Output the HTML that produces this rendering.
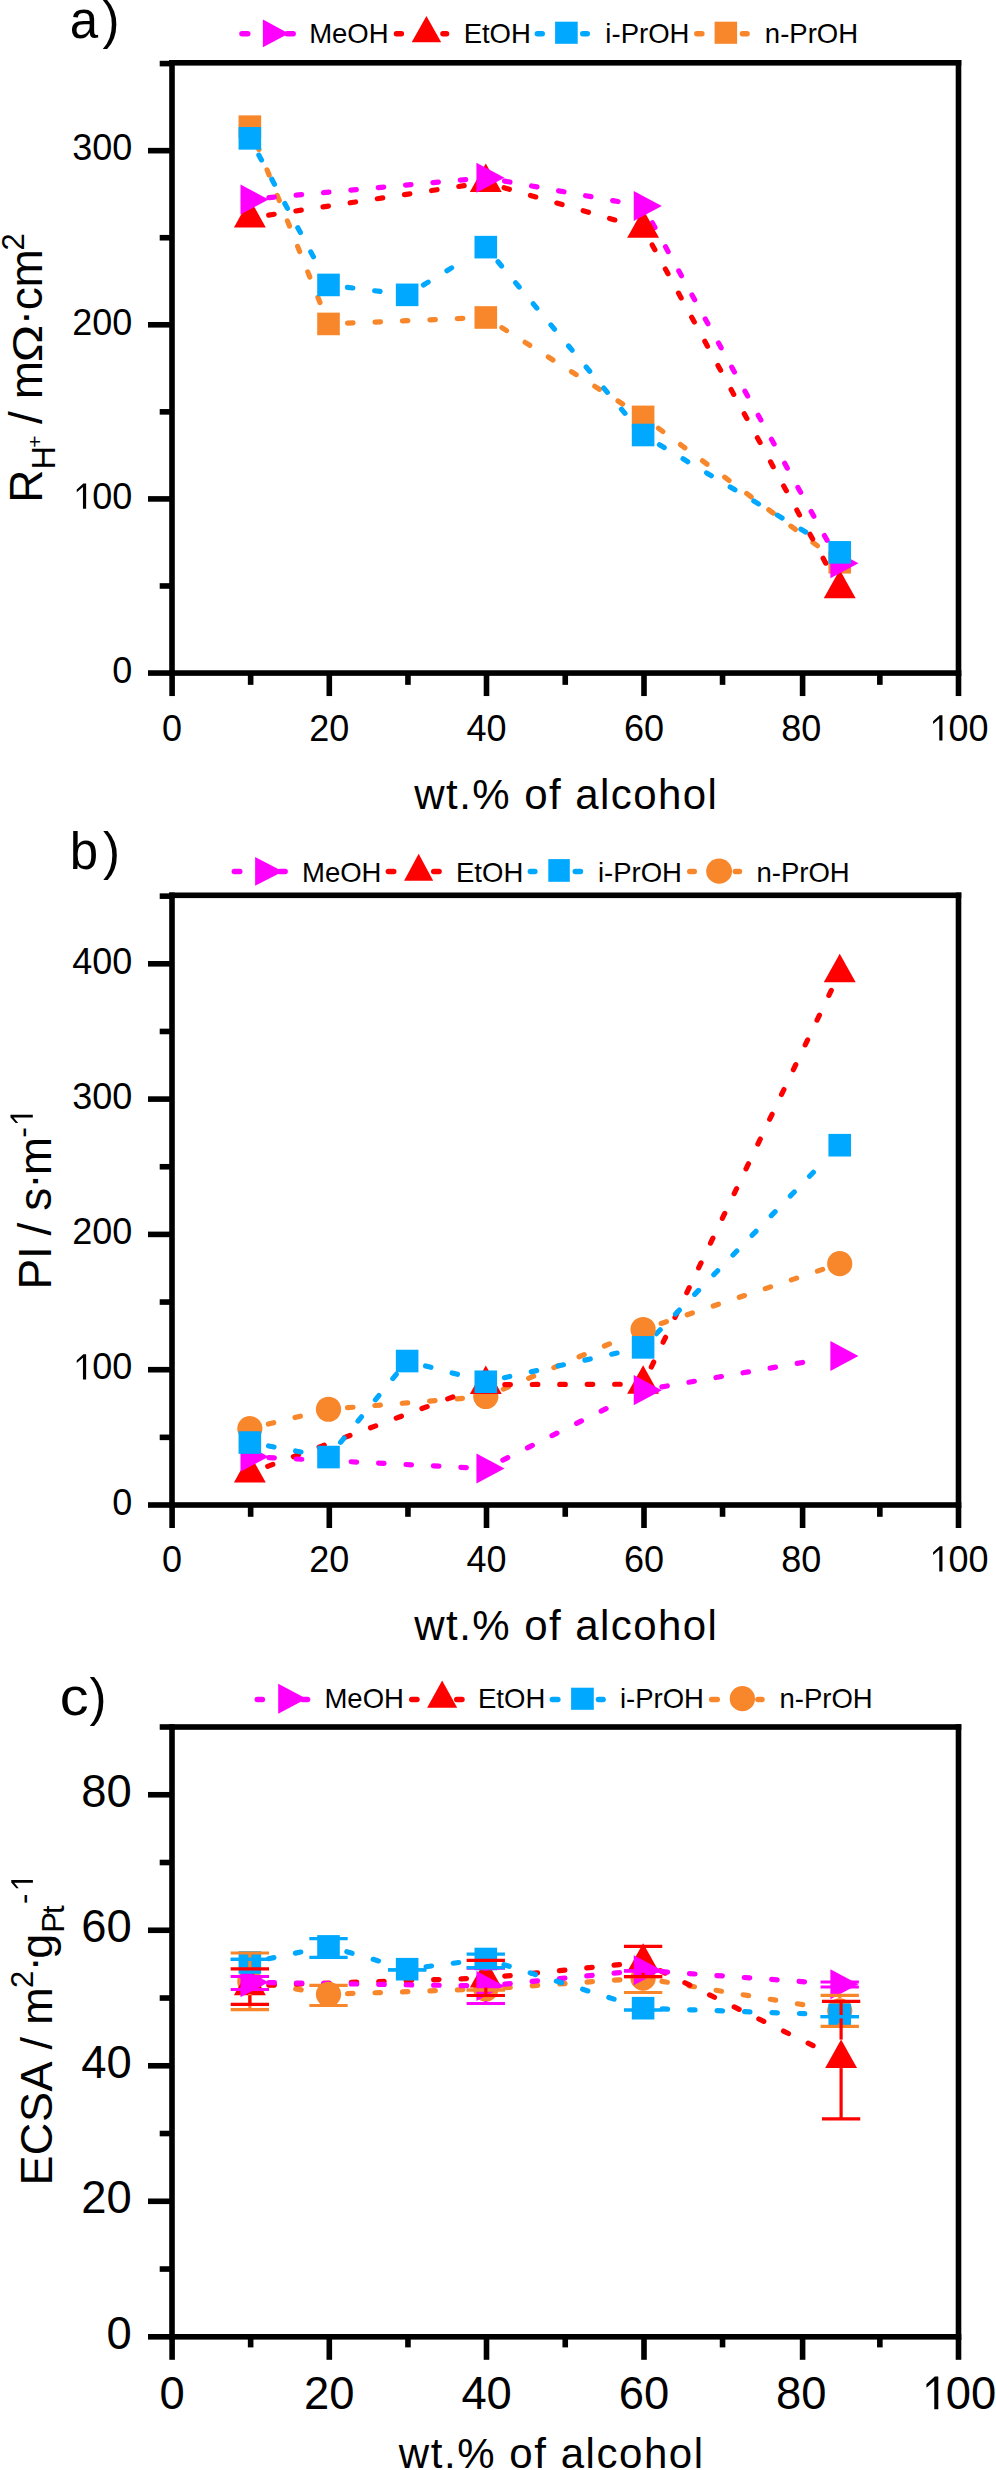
<!DOCTYPE html>
<html><head><meta charset="utf-8"><style>html,body{margin:0;padding:0;background:#fff;overflow:hidden;}svg{display:block;}</style></head>
<body><svg width="996" height="2470" viewBox="0 0 996 2470" font-family='"Liberation Sans", sans-serif'>
<rect width="996" height="2470" fill="#fff"/>
<rect x="955.70" y="60.00" width="5.6" height="615.85" fill="#000"/>
<rect x="169.20" y="60.00" width="792.10" height="5.6" fill="#000"/>
<rect x="169.20" y="60.00" width="5.6" height="615.85" fill="#000"/>
<rect x="169.20" y="670.25" width="792.10" height="5.6" fill="#000"/>
<rect x="148.00" y="670.25" width="22.20" height="5.6" fill="#000"/>
<g transform="translate(112.18,682.77)"><text x="0.00" y="0" font-size="36">0</text></g>
<rect x="159.70" y="583.18" width="10.50" height="5.6" fill="#000"/>
<rect x="148.00" y="496.12" width="22.20" height="5.6" fill="#000"/>
<g transform="translate(72.14,508.64)"><polygon points="10.81,0.00 13.99,0.00 13.99,-25.14 11.25,-25.14 4.61,-19.25 4.61,-16.44 10.81,-21.66" fill="#000"/><text x="20.02" y="0" font-size="36">00</text></g>
<rect x="159.70" y="409.05" width="10.50" height="5.6" fill="#000"/>
<rect x="148.00" y="321.99" width="22.20" height="5.6" fill="#000"/>
<g transform="translate(72.14,334.51)"><text x="0.00" y="0" font-size="36">200</text></g>
<rect x="159.70" y="234.92" width="10.50" height="5.6" fill="#000"/>
<rect x="148.00" y="147.86" width="22.20" height="5.6" fill="#000"/>
<g transform="translate(72.14,160.38)"><text x="0.00" y="0" font-size="36">300</text></g>
<rect x="159.70" y="60.79" width="10.50" height="5.6" fill="#000"/>
<rect x="169.30" y="674.85" width="5.6" height="21.20" fill="#000"/>
<g transform="translate(161.99,740.50)"><text x="0.00" y="0" font-size="36">0</text></g>
<rect x="247.85" y="674.85" width="5.6" height="10.00" fill="#000"/>
<rect x="326.50" y="674.85" width="5.6" height="21.20" fill="#000"/>
<g transform="translate(309.28,740.50)"><text x="0.00" y="0" font-size="36">20</text></g>
<rect x="405.15" y="674.85" width="5.6" height="10.00" fill="#000"/>
<rect x="483.70" y="674.85" width="5.6" height="21.20" fill="#000"/>
<g transform="translate(466.58,740.50)"><text x="0.00" y="0" font-size="36">40</text></g>
<rect x="562.45" y="674.85" width="5.6" height="10.00" fill="#000"/>
<rect x="641.20" y="674.85" width="5.6" height="21.20" fill="#000"/>
<g transform="translate(623.88,740.50)"><text x="0.00" y="0" font-size="36">60</text></g>
<rect x="719.75" y="674.85" width="5.6" height="10.00" fill="#000"/>
<rect x="799.80" y="674.85" width="5.6" height="21.20" fill="#000"/>
<g transform="translate(781.18,740.50)"><text x="0.00" y="0" font-size="36">80</text></g>
<rect x="877.05" y="674.85" width="5.6" height="10.00" fill="#000"/>
<rect x="955.70" y="674.85" width="5.6" height="21.20" fill="#000"/>
<g transform="translate(928.47,740.50)"><polygon points="10.81,0.00 13.99,0.00 13.99,-25.14 11.25,-25.14 4.61,-19.25 4.61,-16.44 10.81,-21.66" fill="#000"/><text x="20.02" y="0" font-size="36">00</text></g>
<path d="M256.91 144.37L258.94 149.48M267.08 169.88L269.11 174.99M277.25 195.38L279.28 200.49M287.42 220.89L289.45 226.00M297.59 246.40L299.62 251.51M307.76 271.91L309.79 277.01M317.93 297.41L319.96 302.52M347.53 323.15L353.03 322.92M374.97 322.03L380.47 321.80M402.41 320.90L407.90 320.68M429.85 319.78L435.34 319.55M457.28 318.66L462.78 318.43M501.90 327.67L506.55 330.60M525.12 342.34L529.77 345.27M548.33 357.01L552.98 359.94M571.54 371.68L576.19 374.61M594.76 386.35L599.40 389.28M617.97 401.02L622.62 403.95M658.42 428.22L662.84 431.49M680.50 444.55L684.92 447.82M702.58 460.87L707.00 464.14M724.66 477.20L729.08 480.47M746.74 493.52L751.16 496.79M768.82 509.85L773.24 513.12M790.90 526.17L795.32 529.44M812.98 542.50L817.40 545.77" fill="none" stroke="#F8862A" stroke-width="5.2" stroke-linecap="round"/>
<path d="M268.69 215.07L274.13 214.25M295.84 210.98L301.28 210.16M323.00 206.89L328.43 206.07M350.15 202.80L355.59 201.99M377.30 198.72L382.74 197.90M404.46 194.63L409.90 193.81M431.61 190.54L437.05 189.72M458.77 186.46L464.21 185.64M504.09 187.71L509.37 189.25M530.46 195.39L535.74 196.92M556.82 203.06L562.10 204.60M583.19 210.73L588.47 212.27M609.55 218.41L614.83 219.95M652.22 244.90L654.85 249.73M665.37 269.01L668.00 273.84M678.51 293.12L681.15 297.94M691.66 317.22L694.29 322.05M704.81 341.33L707.44 346.16M717.96 365.44L720.59 370.27M731.10 389.55L733.74 394.38M744.25 413.66L746.88 418.49M757.40 437.77L760.03 442.59M770.54 461.87L773.18 466.70M783.69 485.98L786.32 490.81M796.84 510.09L799.47 514.92M809.98 534.20L812.62 539.03M823.13 558.31L825.76 563.14" fill="none" stroke="#FF0000" stroke-width="5.2" stroke-linecap="round"/>
<path d="M268.82 197.70L274.30 197.19M296.16 195.18L301.64 194.67M323.51 192.65L328.98 192.15M350.85 190.13L356.33 189.63M378.20 187.61L383.67 187.11M405.54 185.09L411.02 184.58M432.88 182.57L438.36 182.06M460.23 180.04L465.70 179.54M504.55 181.07L509.96 182.04M531.57 185.94L536.98 186.92M558.59 190.82L564.01 191.79M585.62 195.69L591.03 196.67M612.64 200.57L618.05 201.55M652.29 222.75L654.94 227.57M665.53 246.81L668.18 251.63M678.77 270.87L681.42 275.69M692.01 294.92L694.66 299.74M705.25 318.98L707.90 323.80M718.49 343.04L721.14 347.86M731.73 367.10L734.38 371.91M744.97 391.15L747.62 395.97M758.21 415.21L760.86 420.03M771.45 439.27L774.10 444.08M784.69 463.32L787.34 468.14M797.93 487.38L800.58 492.20M811.17 511.44L813.82 516.26M824.41 535.49L827.06 540.31" fill="none" stroke="#FF00FF" stroke-width="5.2" stroke-linecap="round"/>
<path d="M258.86 155.13L261.46 159.97M271.84 179.32L274.44 184.17M284.82 203.52L287.42 208.37M297.80 227.72L300.40 232.56M310.79 251.91L313.39 256.76M347.40 287.32L352.86 288.00M374.64 290.75L380.10 291.44M423.44 284.98L428.14 282.12M446.92 270.74L451.62 267.88M498.03 261.76L501.56 265.97M515.66 282.81L519.19 287.03M533.29 303.86L536.82 308.08M550.92 324.92L554.45 329.14M568.55 345.97L572.08 350.19M586.18 367.03L589.71 371.24M603.81 388.08L607.34 392.30M621.44 409.13L624.97 413.35M659.46 444.77L664.18 447.59M683.04 458.84L687.76 461.66M706.62 472.91L711.34 475.73M730.20 486.98L734.92 489.80M753.78 501.06L758.50 503.88M777.36 515.13L782.08 517.95M800.94 529.20L805.66 532.02" fill="none" stroke="#00A8FF" stroke-width="5.2" stroke-linecap="round"/>
<rect x="238.55" y="115.37" width="22.60" height="22.60" fill="#F8862A"/>
<rect x="317.20" y="312.63" width="22.60" height="22.60" fill="#F8862A"/>
<rect x="474.50" y="306.19" width="22.60" height="22.60" fill="#F8862A"/>
<rect x="631.80" y="405.60" width="22.60" height="22.60" fill="#F8862A"/>
<rect x="828.43" y="550.97" width="22.60" height="22.60" fill="#F8862A"/>
<polygon points="249.85,198.90 233.90,227.40 265.80,227.40" fill="#FF0000"/>
<polygon points="485.80,163.39 469.85,191.89 501.75,191.89" fill="#FF0000"/>
<polygon points="643.10,209.17 627.15,237.67 659.05,237.67" fill="#FF0000"/>
<polygon points="839.73,569.74 823.77,598.24 855.68,598.24" fill="#FF0000"/>
<polygon points="240.48,184.40 268.58,199.45 240.48,214.50" fill="#FF00FF"/>
<polygon points="476.43,162.64 504.53,177.69 476.43,192.74" fill="#FF00FF"/>
<polygon points="633.73,191.01 661.83,206.06 633.73,221.11" fill="#FF00FF"/>
<polygon points="830.36,548.27 858.46,563.32 830.36,578.37" fill="#FF00FF"/>
<rect x="238.55" y="127.04" width="22.60" height="22.60" fill="#00A8FF"/>
<rect x="317.20" y="273.63" width="22.60" height="22.60" fill="#00A8FF"/>
<rect x="395.85" y="283.55" width="22.60" height="22.60" fill="#00A8FF"/>
<rect x="474.50" y="235.85" width="22.60" height="22.60" fill="#00A8FF"/>
<rect x="631.80" y="423.71" width="22.60" height="22.60" fill="#00A8FF"/>
<rect x="828.43" y="541.05" width="22.60" height="22.60" fill="#00A8FF"/>
<rect x="955.70" y="892.50" width="5.6" height="615.30" fill="#000"/>
<rect x="169.20" y="892.50" width="792.10" height="5.6" fill="#000"/>
<rect x="169.20" y="892.50" width="5.6" height="615.30" fill="#000"/>
<rect x="169.20" y="1502.20" width="792.10" height="5.6" fill="#000"/>
<rect x="148.00" y="1502.20" width="22.20" height="5.6" fill="#000"/>
<g transform="translate(112.18,1514.72)"><text x="0.00" y="0" font-size="36">0</text></g>
<rect x="159.70" y="1434.55" width="10.50" height="5.6" fill="#000"/>
<rect x="148.00" y="1366.90" width="22.20" height="5.6" fill="#000"/>
<g transform="translate(72.14,1379.42)"><polygon points="10.81,0.00 13.99,0.00 13.99,-25.14 11.25,-25.14 4.61,-19.25 4.61,-16.44 10.81,-21.66" fill="#000"/><text x="20.02" y="0" font-size="36">00</text></g>
<rect x="159.70" y="1299.25" width="10.50" height="5.6" fill="#000"/>
<rect x="148.00" y="1231.60" width="22.20" height="5.6" fill="#000"/>
<g transform="translate(72.14,1244.12)"><text x="0.00" y="0" font-size="36">200</text></g>
<rect x="159.70" y="1163.95" width="10.50" height="5.6" fill="#000"/>
<rect x="148.00" y="1096.30" width="22.20" height="5.6" fill="#000"/>
<g transform="translate(72.14,1108.82)"><text x="0.00" y="0" font-size="36">300</text></g>
<rect x="159.70" y="1028.65" width="10.50" height="5.6" fill="#000"/>
<rect x="148.00" y="961.00" width="22.20" height="5.6" fill="#000"/>
<g transform="translate(72.14,973.52)"><text x="0.00" y="0" font-size="36">400</text></g>
<rect x="159.70" y="893.35" width="10.50" height="5.6" fill="#000"/>
<rect x="169.30" y="1506.80" width="5.6" height="21.20" fill="#000"/>
<g transform="translate(161.99,1571.50)"><text x="0.00" y="0" font-size="36">0</text></g>
<rect x="247.85" y="1506.80" width="5.6" height="10.00" fill="#000"/>
<rect x="326.50" y="1506.80" width="5.6" height="21.20" fill="#000"/>
<g transform="translate(309.28,1571.50)"><text x="0.00" y="0" font-size="36">20</text></g>
<rect x="405.15" y="1506.80" width="5.6" height="10.00" fill="#000"/>
<rect x="483.70" y="1506.80" width="5.6" height="21.20" fill="#000"/>
<g transform="translate(466.58,1571.50)"><text x="0.00" y="0" font-size="36">40</text></g>
<rect x="562.45" y="1506.80" width="5.6" height="10.00" fill="#000"/>
<rect x="641.20" y="1506.80" width="5.6" height="21.20" fill="#000"/>
<g transform="translate(623.88,1571.50)"><text x="0.00" y="0" font-size="36">60</text></g>
<rect x="719.75" y="1506.80" width="5.6" height="10.00" fill="#000"/>
<rect x="799.80" y="1506.80" width="5.6" height="21.20" fill="#000"/>
<g transform="translate(781.18,1571.50)"><text x="0.00" y="0" font-size="36">80</text></g>
<rect x="877.05" y="1506.80" width="5.6" height="10.00" fill="#000"/>
<rect x="955.70" y="1506.80" width="5.6" height="21.20" fill="#000"/>
<g transform="translate(928.47,1571.50)"><polygon points="10.81,0.00 13.99,0.00 13.99,-25.14 11.25,-25.14 4.61,-19.25 4.61,-16.44 10.81,-21.66" fill="#000"/><text x="20.02" y="0" font-size="36">00</text></g>
<path d="M268.35 1424.05L273.69 1422.74M295.01 1417.49L300.35 1416.17M347.49 1407.71L352.97 1407.26M374.86 1405.49L380.34 1405.05M402.23 1403.28L407.71 1402.83M429.60 1401.06L435.08 1400.62M456.97 1398.85L462.45 1398.40M503.33 1389.05L508.39 1386.89M528.59 1378.28L533.65 1376.13M553.85 1367.52L558.91 1365.36M579.11 1356.76L584.17 1354.60M604.38 1345.99L609.43 1343.84M661.17 1323.45L666.38 1321.70M687.21 1314.73L692.42 1312.99M713.25 1306.02L718.46 1304.27M739.29 1297.30L744.50 1295.56M765.33 1288.59L770.54 1286.84M791.37 1279.87L796.58 1278.13M817.41 1271.16L822.62 1269.41" fill="none" stroke="#F8862A" stroke-width="5.2" stroke-linecap="round"/>
<path d="M267.69 1466.33L272.84 1464.40M293.40 1456.70L298.55 1454.77M319.12 1447.06L324.27 1445.13M344.83 1437.42L349.98 1435.49M370.54 1427.79L375.69 1425.86M396.26 1418.15L401.41 1416.22M421.97 1408.52L427.12 1406.59M447.69 1398.88L452.84 1396.95M504.85 1384.55L510.35 1384.54M532.31 1384.48L537.81 1384.47M559.77 1384.41L565.27 1384.39M587.23 1384.34L592.73 1384.32M614.69 1384.27L620.19 1384.25M651.31 1367.01L653.68 1362.04M663.15 1342.23L665.52 1337.27M674.99 1317.45L677.36 1312.49M686.83 1292.68L689.20 1287.71M698.67 1267.90L701.04 1262.94M710.51 1243.12L712.88 1238.16M722.35 1218.35L724.72 1213.38M734.19 1193.57L736.56 1188.61M746.03 1168.79L748.40 1163.83M757.87 1144.02L760.24 1139.05M769.71 1119.24L772.08 1114.28M781.55 1094.46L783.92 1089.50M793.39 1069.69L795.76 1064.72M805.23 1044.91L807.60 1039.95M817.07 1020.13L819.44 1015.17M828.90 995.36L831.28 990.39" fill="none" stroke="#FF0000" stroke-width="5.2" stroke-linecap="round"/>
<path d="M268.88 1457.59L274.37 1457.87M296.30 1458.98L301.79 1459.26M323.73 1460.36L329.22 1460.64M351.15 1461.75L356.64 1462.03M378.58 1463.13L384.07 1463.41M406.00 1464.52L411.49 1464.80M433.43 1465.90L438.92 1466.18M460.85 1467.29L466.34 1467.57M502.85 1460.05L507.77 1457.60M527.43 1447.80L532.35 1445.35M552.00 1435.55L556.93 1433.10M576.58 1423.30L581.50 1420.85M601.16 1411.06L606.08 1408.60M661.87 1386.89L667.29 1385.95M688.93 1382.20L694.34 1381.26M715.98 1377.50L721.40 1376.56M743.04 1372.81L748.46 1371.87M770.09 1368.11L775.51 1367.17M797.15 1363.42L802.57 1362.48" fill="none" stroke="#FF00FF" stroke-width="5.2" stroke-linecap="round"/>
<path d="M268.58 1446.00L273.99 1447.00M295.59 1450.98L301.00 1451.97M340.57 1442.30L344.06 1438.05M357.98 1421.06L361.46 1416.81M375.38 1399.82L378.86 1395.57M392.78 1378.58L396.27 1374.32M425.57 1365.89L430.89 1367.29M452.13 1372.89L457.44 1374.29M504.41 1377.69L509.78 1376.51M531.24 1371.82L536.61 1370.65M558.06 1365.96L563.44 1364.78M584.89 1360.09L590.26 1358.92M611.72 1354.23L617.09 1353.05M656.38 1333.71L660.22 1329.77M675.53 1314.03L679.36 1310.08M694.67 1294.34L698.51 1290.40M713.82 1274.66L717.66 1270.71M732.97 1254.97L736.80 1251.03M752.11 1235.29L755.95 1231.34M771.26 1215.60L775.09 1211.66M790.41 1195.92L794.24 1191.98M809.55 1176.23L813.39 1172.29" fill="none" stroke="#00A8FF" stroke-width="5.2" stroke-linecap="round"/>
<circle cx="249.85" cy="1428.61" r="12.60" fill="#F8862A"/>
<circle cx="328.50" cy="1409.24" r="12.60" fill="#F8862A"/>
<circle cx="485.80" cy="1396.52" r="12.60" fill="#F8862A"/>
<circle cx="643.10" cy="1329.49" r="12.60" fill="#F8862A"/>
<circle cx="839.73" cy="1263.69" r="12.60" fill="#F8862A"/>
<polygon points="249.85,1454.02 233.90,1482.52 265.80,1482.52" fill="#FF0000"/>
<polygon points="485.80,1365.60 469.85,1394.10 501.75,1394.10" fill="#FF0000"/>
<polygon points="643.10,1365.19 627.15,1393.69 659.05,1393.69" fill="#FF0000"/>
<polygon points="839.73,953.71 823.77,982.21 855.68,982.21" fill="#FF0000"/>
<polygon points="240.48,1441.58 268.58,1456.63 240.48,1471.68" fill="#FF00FF"/>
<polygon points="476.43,1453.50 504.53,1468.55 476.43,1483.60" fill="#FF00FF"/>
<polygon points="633.73,1375.10 661.83,1390.15 633.73,1405.20" fill="#FF00FF"/>
<polygon points="830.36,1340.98 858.46,1356.03 830.36,1371.08" fill="#FF00FF"/>
<rect x="238.55" y="1431.25" width="22.60" height="22.60" fill="#00A8FF"/>
<rect x="317.20" y="1445.74" width="22.60" height="22.60" fill="#00A8FF"/>
<rect x="395.85" y="1349.74" width="22.60" height="22.60" fill="#00A8FF"/>
<rect x="474.50" y="1370.46" width="22.60" height="22.60" fill="#00A8FF"/>
<rect x="631.80" y="1336.07" width="22.60" height="22.60" fill="#00A8FF"/>
<rect x="828.43" y="1133.91" width="22.60" height="22.60" fill="#00A8FF"/>
<rect x="955.70" y="1724.20" width="5.6" height="615.40" fill="#000"/>
<rect x="169.20" y="1724.20" width="792.10" height="5.6" fill="#000"/>
<rect x="169.20" y="1724.20" width="5.6" height="615.40" fill="#000"/>
<rect x="169.20" y="2334.00" width="792.10" height="5.6" fill="#000"/>
<rect x="148.00" y="2334.00" width="22.20" height="5.6" fill="#000"/>
<g transform="translate(106.54,2348.80) scale(0.965,1)"><text x="0.00" y="0" font-size="47">0</text></g>
<rect x="159.70" y="2266.24" width="10.50" height="5.6" fill="#000"/>
<rect x="148.00" y="2198.49" width="22.20" height="5.6" fill="#000"/>
<g transform="translate(81.32,2213.29) scale(0.965,1)"><text x="0.00" y="0" font-size="47">20</text></g>
<rect x="159.70" y="2130.73" width="10.50" height="5.6" fill="#000"/>
<rect x="148.00" y="2062.98" width="22.20" height="5.6" fill="#000"/>
<g transform="translate(81.32,2077.78) scale(0.965,1)"><text x="0.00" y="0" font-size="47">40</text></g>
<rect x="159.70" y="1995.22" width="10.50" height="5.6" fill="#000"/>
<rect x="148.00" y="1927.47" width="22.20" height="5.6" fill="#000"/>
<g transform="translate(81.32,1942.27) scale(0.965,1)"><text x="0.00" y="0" font-size="47">60</text></g>
<rect x="159.70" y="1859.71" width="10.50" height="5.6" fill="#000"/>
<rect x="148.00" y="1791.96" width="22.20" height="5.6" fill="#000"/>
<g transform="translate(81.32,1806.76) scale(0.965,1)"><text x="0.00" y="0" font-size="47">80</text></g>
<rect x="159.70" y="1724.20" width="10.50" height="5.6" fill="#000"/>
<rect x="169.30" y="2338.60" width="5.6" height="21.20" fill="#000"/>
<g transform="translate(159.39,2409.20) scale(0.965,1)"><text x="0.00" y="0" font-size="47">0</text></g>
<rect x="247.85" y="2338.60" width="5.6" height="8.80" fill="#000"/>
<rect x="326.50" y="2338.60" width="5.6" height="21.20" fill="#000"/>
<g transform="translate(304.08,2409.20) scale(0.965,1)"><text x="0.00" y="0" font-size="47">20</text></g>
<rect x="405.15" y="2338.60" width="5.6" height="8.80" fill="#000"/>
<rect x="483.70" y="2338.60" width="5.6" height="21.20" fill="#000"/>
<g transform="translate(461.38,2409.20) scale(0.965,1)"><text x="0.00" y="0" font-size="47">40</text></g>
<rect x="562.45" y="2338.60" width="5.6" height="8.80" fill="#000"/>
<rect x="641.20" y="2338.60" width="5.6" height="21.20" fill="#000"/>
<g transform="translate(618.68,2409.20) scale(0.965,1)"><text x="0.00" y="0" font-size="47">60</text></g>
<rect x="719.75" y="2338.60" width="5.6" height="8.80" fill="#000"/>
<rect x="799.80" y="2338.60" width="5.6" height="21.20" fill="#000"/>
<g transform="translate(775.98,2409.20) scale(0.965,1)"><text x="0.00" y="0" font-size="47">80</text></g>
<rect x="877.05" y="2338.60" width="5.6" height="8.80" fill="#000"/>
<rect x="955.70" y="2338.60" width="5.6" height="21.20" fill="#000"/>
<g transform="translate(920.66,2409.20) scale(0.965,1)"><polygon points="14.11,0.00 18.27,0.00 18.27,-32.82 14.69,-32.82 6.01,-25.13 6.01,-21.46 14.11,-28.27" fill="#000"/><text x="26.14" y="0" font-size="47">00</text></g>
<path d="M268.65 1984.48L274.08 1985.37M295.75 1988.93L301.17 1989.82M347.54 1993.66L353.04 1993.47M374.98 1992.73L380.48 1992.55M402.43 1991.81L407.92 1991.62M429.87 1990.88L435.37 1990.70M457.32 1989.96L462.81 1989.77M504.81 1987.70L510.29 1987.32M532.20 1985.81L537.69 1985.44M559.60 1983.93L565.08 1983.56M586.99 1982.05L592.48 1981.68M614.39 1980.17L619.87 1979.79M661.89 1981.32L667.32 1982.22M688.98 1985.81L694.41 1986.71M716.07 1990.30L721.50 1991.20M743.16 1994.79L748.59 1995.69M770.25 1999.28L775.68 2000.18M797.34 2003.77L802.77 2004.67" fill="none" stroke="#F8862A" stroke-width="5.2" stroke-linecap="round"/>
<path d="M268.89 1985.08L274.39 1984.90M296.34 1984.18L301.83 1984.00M323.78 1983.29L329.28 1983.11M351.23 1982.39L356.72 1982.21M378.67 1981.50L384.17 1981.32M406.12 1980.60L411.61 1980.42M433.56 1979.70L439.06 1979.53M461.01 1978.81L466.50 1978.63M504.76 1976.11L510.23 1975.56M532.08 1973.38L537.55 1972.83M559.40 1970.65L564.88 1970.11M586.73 1967.93L592.20 1967.38M614.05 1965.20L619.53 1964.65M660.21 1970.68L665.15 1973.10M684.87 1982.76L689.81 1985.18M709.53 1994.84L714.47 1997.25M734.19 2006.91L739.13 2009.33M758.85 2018.99L763.79 2021.41M783.51 2031.07L788.45 2033.49M808.17 2043.15L813.11 2045.57" fill="none" stroke="#FF0000" stroke-width="5.2" stroke-linecap="round"/>
<path d="M268.90 1982.60L274.40 1982.68M296.35 1983.03L301.85 1983.12M323.81 1983.46L329.31 1983.55M351.27 1983.89L356.77 1983.98M378.72 1984.32L384.22 1984.41M406.18 1984.75L411.68 1984.84M433.64 1985.18L439.14 1985.27M461.09 1985.61L466.59 1985.70M504.76 1984.11L510.23 1983.56M532.08 1981.38L537.55 1980.83M559.40 1978.65L564.88 1978.11M586.73 1975.93L592.20 1975.38M614.05 1973.20L619.53 1972.65M662.10 1971.65L667.59 1972.04M689.49 1973.60L694.98 1973.99M716.88 1975.55L722.37 1975.94M744.27 1977.50L749.76 1977.89M771.66 1979.45L777.15 1979.84M799.06 1981.40L804.54 1981.79" fill="none" stroke="#FF00FF" stroke-width="5.2" stroke-linecap="round"/>
<path d="M268.51 1958.68L273.90 1957.58M295.42 1953.17L300.80 1952.07M346.80 1951.70L352.08 1953.24M373.17 1959.35L378.45 1960.88M426.04 1966.75L431.50 1966.04M453.27 1963.22L458.73 1962.51M503.98 1964.69L509.23 1966.33M530.19 1972.88L535.44 1974.53M556.40 1981.08L561.65 1982.72M582.61 1989.28L587.85 1990.92M608.81 1997.48L614.06 1999.12M662.14 2008.85L667.64 2009.04M689.58 2009.78L695.08 2009.97M717.03 2010.72L722.52 2010.91M744.47 2011.65L749.97 2011.84M771.92 2012.59L777.41 2012.78M799.36 2013.52L804.86 2013.71" fill="none" stroke="#00A8FF" stroke-width="5.2" stroke-linecap="round"/>
<circle cx="249.85" cy="1981.40" r="12.60" fill="#F8862A"/>
<circle cx="328.50" cy="1994.30" r="12.60" fill="#F8862A"/>
<circle cx="485.80" cy="1989.00" r="12.60" fill="#F8862A"/>
<circle cx="643.10" cy="1978.20" r="12.60" fill="#F8862A"/>
<circle cx="839.73" cy="2010.80" r="12.60" fill="#F8862A"/>
<polygon points="249.85,1966.70 233.90,1995.20 265.80,1995.20" fill="#FF0000"/>
<polygon points="485.80,1959.00 469.85,1987.50 501.75,1987.50" fill="#FF0000"/>
<polygon points="643.10,1943.30 627.15,1971.80 659.05,1971.80" fill="#FF0000"/>
<polygon points="841.10,2039.60 825.15,2068.10 857.05,2068.10" fill="#FF0000"/>
<polygon points="240.48,1967.25 268.58,1982.30 240.48,1997.35" fill="#FF00FF"/>
<polygon points="476.43,1970.95 504.53,1986.00 476.43,2001.05" fill="#FF00FF"/>
<polygon points="633.73,1955.25 661.83,1970.30 633.73,1985.35" fill="#FF00FF"/>
<polygon points="830.36,1969.25 858.46,1984.30 830.36,1999.35" fill="#FF00FF"/>
<rect x="238.55" y="1951.20" width="22.60" height="22.60" fill="#00A8FF"/>
<rect x="317.20" y="1935.10" width="22.60" height="22.60" fill="#00A8FF"/>
<rect x="395.85" y="1957.90" width="22.60" height="22.60" fill="#00A8FF"/>
<rect x="474.50" y="1947.70" width="22.60" height="22.60" fill="#00A8FF"/>
<rect x="631.80" y="1996.90" width="22.60" height="22.60" fill="#00A8FF"/>
<rect x="828.43" y="2003.60" width="22.60" height="22.60" fill="#00A8FF"/>
<line x1="249.85" y1="1953.00" x2="249.85" y2="1968.80" stroke="#F8862A" stroke-width="3.2"/><line x1="249.85" y1="1994.00" x2="249.85" y2="2009.60" stroke="#F8862A" stroke-width="3.2"/><line x1="230.70" y1="1953.00" x2="269.00" y2="1953.00" stroke="#F8862A" stroke-width="3.2"/><line x1="230.70" y1="2009.60" x2="269.00" y2="2009.60" stroke="#F8862A" stroke-width="3.2"/>
<line x1="309.35" y1="1985.40" x2="347.65" y2="1985.40" stroke="#F8862A" stroke-width="3.2"/><line x1="309.35" y1="2005.50" x2="347.65" y2="2005.50" stroke="#F8862A" stroke-width="3.2"/>
<line x1="466.65" y1="1990.00" x2="504.95" y2="1990.00" stroke="#F8862A" stroke-width="3.2"/><line x1="466.65" y1="1990.00" x2="504.95" y2="1990.00" stroke="#F8862A" stroke-width="3.2"/>
<line x1="643.10" y1="1990.80" x2="643.10" y2="1992.50" stroke="#F8862A" stroke-width="3.2"/><line x1="623.95" y1="1976.60" x2="662.25" y2="1976.60" stroke="#F8862A" stroke-width="3.2"/><line x1="623.95" y1="1992.50" x2="662.25" y2="1992.50" stroke="#F8862A" stroke-width="3.2"/>
<line x1="839.73" y1="1995.30" x2="839.73" y2="1998.20" stroke="#F8862A" stroke-width="3.2"/><line x1="839.73" y1="2023.40" x2="839.73" y2="2026.30" stroke="#F8862A" stroke-width="3.2"/><line x1="820.58" y1="1995.30" x2="858.88" y2="1995.30" stroke="#F8862A" stroke-width="3.2"/><line x1="820.58" y1="2026.30" x2="858.88" y2="2026.30" stroke="#F8862A" stroke-width="3.2"/>
<line x1="249.85" y1="1995.20" x2="249.85" y2="2004.30" stroke="#FF0000" stroke-width="3.2"/><line x1="230.70" y1="1968.80" x2="269.00" y2="1968.80" stroke="#FF0000" stroke-width="3.2"/><line x1="230.70" y1="2004.30" x2="269.00" y2="2004.30" stroke="#FF0000" stroke-width="3.2"/>
<line x1="485.80" y1="1987.50" x2="485.80" y2="1995.50" stroke="#FF0000" stroke-width="3.2"/><line x1="466.65" y1="1960.40" x2="504.95" y2="1960.40" stroke="#FF0000" stroke-width="3.2"/><line x1="466.65" y1="1995.50" x2="504.95" y2="1995.50" stroke="#FF0000" stroke-width="3.2"/>
<line x1="643.10" y1="1971.80" x2="643.10" y2="1976.60" stroke="#FF0000" stroke-width="3.2"/><line x1="623.95" y1="1946.40" x2="662.25" y2="1946.40" stroke="#FF0000" stroke-width="3.2"/><line x1="623.95" y1="1976.60" x2="662.25" y2="1976.60" stroke="#FF0000" stroke-width="3.2"/>
<line x1="841.10" y1="2001.40" x2="841.10" y2="2039.60" stroke="#FF0000" stroke-width="3.2"/><line x1="841.10" y1="2068.10" x2="841.10" y2="2118.90" stroke="#FF0000" stroke-width="3.2"/><line x1="821.95" y1="2001.40" x2="860.25" y2="2001.40" stroke="#FF0000" stroke-width="3.2"/><line x1="821.95" y1="2118.90" x2="860.25" y2="2118.90" stroke="#FF0000" stroke-width="3.2"/>
<line x1="230.70" y1="1976.50" x2="269.00" y2="1976.50" stroke="#FF00FF" stroke-width="3.2"/><line x1="230.70" y1="1989.50" x2="269.00" y2="1989.50" stroke="#FF00FF" stroke-width="3.2"/>
<line x1="485.80" y1="1968.20" x2="485.80" y2="1970.95" stroke="#FF00FF" stroke-width="3.2"/><line x1="485.80" y1="2001.05" x2="485.80" y2="2003.50" stroke="#FF00FF" stroke-width="3.2"/><line x1="466.65" y1="1968.20" x2="504.95" y2="1968.20" stroke="#FF00FF" stroke-width="3.2"/><line x1="466.65" y1="2003.50" x2="504.95" y2="2003.50" stroke="#FF00FF" stroke-width="3.2"/>
<line x1="623.95" y1="1970.80" x2="662.25" y2="1970.80" stroke="#FF00FF" stroke-width="3.2"/><line x1="623.95" y1="1970.80" x2="662.25" y2="1970.80" stroke="#FF00FF" stroke-width="3.2"/>
<line x1="820.58" y1="1982.00" x2="858.88" y2="1982.00" stroke="#FF00FF" stroke-width="3.2"/><line x1="820.58" y1="1987.00" x2="858.88" y2="1987.00" stroke="#FF00FF" stroke-width="3.2"/>
<line x1="230.70" y1="1959.40" x2="269.00" y2="1959.40" stroke="#00A8FF" stroke-width="3.2"/><line x1="230.70" y1="1959.40" x2="269.00" y2="1959.40" stroke="#00A8FF" stroke-width="3.2"/>
<line x1="309.35" y1="1938.60" x2="347.65" y2="1938.60" stroke="#00A8FF" stroke-width="3.2"/><line x1="309.35" y1="1957.30" x2="347.65" y2="1957.30" stroke="#00A8FF" stroke-width="3.2"/>
<line x1="388.00" y1="1969.90" x2="426.30" y2="1969.90" stroke="#00A8FF" stroke-width="3.2"/><line x1="388.00" y1="1969.90" x2="426.30" y2="1969.90" stroke="#00A8FF" stroke-width="3.2"/>
<line x1="466.65" y1="1954.10" x2="504.95" y2="1954.10" stroke="#00A8FF" stroke-width="3.2"/><line x1="466.65" y1="1967.60" x2="504.95" y2="1967.60" stroke="#00A8FF" stroke-width="3.2"/>
<line x1="623.95" y1="2010.00" x2="662.25" y2="2010.00" stroke="#00A8FF" stroke-width="3.2"/><line x1="623.95" y1="2010.00" x2="662.25" y2="2010.00" stroke="#00A8FF" stroke-width="3.2"/>
<line x1="820.58" y1="2016.60" x2="858.88" y2="2016.60" stroke="#00A8FF" stroke-width="3.2"/><line x1="820.58" y1="2016.60" x2="858.88" y2="2016.60" stroke="#00A8FF" stroke-width="3.2"/>
<text x="69.73" y="38.20" font-size="51">a</text>
<text x="102.60" y="38.20" font-size="51">)</text>
<text x="69.71" y="868.80" font-size="51">b</text>
<text x="102.90" y="868.80" font-size="51">)</text>
<text transform="translate(59.64,1714.9) scale(1.135,1)" x="0" y="0" font-size="51">c</text>
<text x="89.40" y="1714.90" font-size="51">)</text>
<text x="414.36" y="809.20" font-size="42" letter-spacing="1.43">wt.% of alcohol</text>
<text x="414.36" y="1640.20" font-size="42" letter-spacing="1.43">wt.% of alcohol</text>
<text x="398.86" y="2467.70" font-size="42" letter-spacing="1.55">wt.% of alcohol</text>
<text transform="rotate(-90)" x="-502.87" y="42.20" font-size="46">R</text>
<text transform="rotate(-90)" x="-469.47" y="55.20" font-size="32.5">H</text>
<text transform="rotate(-90)" x="-447.73" y="41.50" font-size="21">+</text>
<text transform="rotate(-90)" x="-423.90" y="42.20" font-size="46">/</text>
<text transform="rotate(-90)" x="-399.25" y="42.20" font-size="46">m</text>
<text transform="rotate(-90)" x="-325.36" y="38.80" font-size="46">·</text>
<text transform="rotate(-90)" x="-310.25" y="42.20" font-size="46">c</text>
<text transform="rotate(-90)" x="-287.45" y="42.20" font-size="46">m</text>
<text transform="rotate(-90)" x="-250.46" y="23.90" font-size="31">2</text>
<text transform="rotate(-90) translate(-362.23,42.2) scale(1.158,1)" x="0" y="0" font-size="43.3">Ω</text>
<text transform="rotate(-90)" x="-1289.57" y="50.70" font-size="46">P</text>
<text transform="rotate(-90)" x="-1259.05" y="50.70" font-size="46">I</text>
<text transform="rotate(-90)" x="-1235.50" y="50.70" font-size="46">/</text>
<text transform="rotate(-90)" x="-1210.78" y="50.70" font-size="46">s</text>
<text transform="rotate(-90)" x="-1188.86" y="47.70" font-size="46">·</text>
<text transform="rotate(-90)" x="-1175.15" y="50.70" font-size="46">m</text>
<text transform="rotate(-90)" x="-1137.82" y="33.20" font-size="32">-</text>
<polygon points="32.80,1117.53 32.80,1114.70 10.46,1114.70 10.46,1117.14 15.69,1123.04 18.19,1123.04 13.55,1117.53" fill="#000"/>
<text transform="rotate(-90)" x="-2185.49" y="51.60" font-size="45">E</text>
<text transform="rotate(-90)" x="-2155.29" y="51.60" font-size="45">C</text>
<text transform="rotate(-90)" x="-2122.04" y="51.60" font-size="45">S</text>
<text transform="rotate(-90)" x="-2091.49" y="51.60" font-size="45">A</text>
<text transform="rotate(-90)" x="-2049.40" y="51.60" font-size="45">/</text>
<text transform="rotate(-90)" x="-2024.79" y="51.60" font-size="45">m</text>
<text transform="rotate(-90)" x="-1988.06" y="33.30" font-size="31">2</text>
<text transform="rotate(-90)" x="-1971.34" y="47.60" font-size="45">·</text>
<text transform="rotate(-90)" x="-1958.69" y="51.60" font-size="45">g</text>
<text transform="rotate(-90)" x="-1932.84" y="63.50" font-size="31">P</text>
<text transform="rotate(-90)" x="-1913.97" y="63.50" font-size="31">t</text>
<text transform="rotate(-90)" x="-1903.98" y="33.90" font-size="31">-</text>
<polygon points="32.90,1882.85 32.90,1880.11 11.25,1880.11 11.25,1882.47 16.33,1888.20 18.75,1888.20 14.25,1882.85" fill="#000"/>
<line x1="241.95" y1="33.80" x2="247.75" y2="33.80" stroke="#FF00FF" stroke-width="5.5" stroke-linecap="round"/>
<line x1="287.25" y1="33.80" x2="293.15" y2="33.80" stroke="#FF00FF" stroke-width="5.5" stroke-linecap="round"/>
<polygon points="262.90,19.60 288.80,33.45 262.90,47.30" fill="#FF00FF"/>
<text x="309.14" y="43.00" font-size="27.5">MeOH</text>
<line x1="396.45" y1="33.80" x2="401.35" y2="33.80" stroke="#FF0000" stroke-width="5.5" stroke-linecap="round"/>
<line x1="442.95" y1="33.80" x2="446.55" y2="33.80" stroke="#FF0000" stroke-width="5.5" stroke-linecap="round"/>
<polygon points="426.45,16.10 441.20,42.20 411.70,42.20" fill="#FF0000"/>
<text x="463.64" y="43.00" font-size="27.5">EtOH</text>
<line x1="537.35" y1="33.80" x2="542.25" y2="33.80" stroke="#00A8FF" stroke-width="5.5" stroke-linecap="round"/>
<line x1="582.75" y1="33.80" x2="587.25" y2="33.80" stroke="#00A8FF" stroke-width="5.5" stroke-linecap="round"/>
<rect x="555.10" y="21.70" width="22.60" height="22.10" fill="#00A8FF"/>
<text x="605.36" y="43.00" font-size="27.5">i-PrOH</text>
<line x1="696.85" y1="33.80" x2="701.85" y2="33.80" stroke="#F8862A" stroke-width="5.5" stroke-linecap="round"/>
<line x1="742.45" y1="33.80" x2="747.05" y2="33.80" stroke="#F8862A" stroke-width="5.5" stroke-linecap="round"/>
<rect x="714.60" y="21.70" width="22.50" height="22.10" fill="#F8862A"/>
<text x="764.87" y="43.00" font-size="27.5">n-PrOH</text>
<line x1="234.35" y1="871.50" x2="239.75" y2="871.50" stroke="#FF00FF" stroke-width="5.5" stroke-linecap="round"/>
<line x1="279.75" y1="871.50" x2="285.15" y2="871.50" stroke="#FF00FF" stroke-width="5.5" stroke-linecap="round"/>
<polygon points="255.10,857.10 283.00,871.45 255.10,885.80" fill="#FF00FF"/>
<text x="302.04" y="882.00" font-size="27.5">MeOH</text>
<line x1="388.35" y1="871.50" x2="393.75" y2="871.50" stroke="#FF0000" stroke-width="5.5" stroke-linecap="round"/>
<line x1="433.75" y1="871.50" x2="439.05" y2="871.50" stroke="#FF0000" stroke-width="5.5" stroke-linecap="round"/>
<polygon points="418.65,853.70 433.20,880.80 404.10,880.80" fill="#FF0000"/>
<text x="456.04" y="882.00" font-size="27.5">EtOH</text>
<line x1="530.35" y1="871.50" x2="534.85" y2="871.50" stroke="#00A8FF" stroke-width="5.5" stroke-linecap="round"/>
<line x1="575.25" y1="871.50" x2="580.45" y2="871.50" stroke="#00A8FF" stroke-width="5.5" stroke-linecap="round"/>
<rect x="548.30" y="859.10" width="21.50" height="22.70" fill="#00A8FF"/>
<text x="597.96" y="882.00" font-size="27.5">i-PrOH</text>
<line x1="689.75" y1="871.50" x2="694.25" y2="871.50" stroke="#F8862A" stroke-width="5.5" stroke-linecap="round"/>
<line x1="735.35" y1="871.50" x2="739.45" y2="871.50" stroke="#F8862A" stroke-width="5.5" stroke-linecap="round"/>
<ellipse cx="719.10" cy="871.15" rx="12.90" ry="12.65" fill="#F8862A"/>
<text x="756.47" y="882.00" font-size="27.5">n-PrOH</text>
<line x1="257.25" y1="1699.60" x2="262.35" y2="1699.60" stroke="#FF00FF" stroke-width="5.5" stroke-linecap="round"/>
<line x1="302.75" y1="1699.60" x2="307.55" y2="1699.60" stroke="#FF00FF" stroke-width="5.5" stroke-linecap="round"/>
<polygon points="278.20,1683.70 306.50,1698.75 278.20,1713.80" fill="#FF00FF"/>
<text x="324.44" y="1708.40" font-size="27.5">MeOH</text>
<line x1="411.75" y1="1699.60" x2="416.95" y2="1699.60" stroke="#FF0000" stroke-width="5.5" stroke-linecap="round"/>
<line x1="456.75" y1="1699.60" x2="461.95" y2="1699.60" stroke="#FF0000" stroke-width="5.5" stroke-linecap="round"/>
<polygon points="442.15,1680.40 457.20,1707.80 427.10,1707.80" fill="#FF0000"/>
<text x="478.04" y="1708.40" font-size="27.5">EtOH</text>
<line x1="552.35" y1="1699.60" x2="557.85" y2="1699.60" stroke="#00A8FF" stroke-width="5.5" stroke-linecap="round"/>
<line x1="598.45" y1="1699.60" x2="603.05" y2="1699.60" stroke="#00A8FF" stroke-width="5.5" stroke-linecap="round"/>
<rect x="571.10" y="1687.70" width="22.70" height="22.10" fill="#00A8FF"/>
<text x="619.96" y="1708.40" font-size="27.5">i-PrOH</text>
<line x1="711.75" y1="1699.60" x2="717.25" y2="1699.60" stroke="#F8862A" stroke-width="5.5" stroke-linecap="round"/>
<line x1="757.95" y1="1699.60" x2="761.95" y2="1699.60" stroke="#F8862A" stroke-width="5.5" stroke-linecap="round"/>
<ellipse cx="742.35" cy="1698.65" rx="12.65" ry="12.55" fill="#F8862A"/>
<text x="779.47" y="1708.40" font-size="27.5">n-PrOH</text>
</svg></body></html>
